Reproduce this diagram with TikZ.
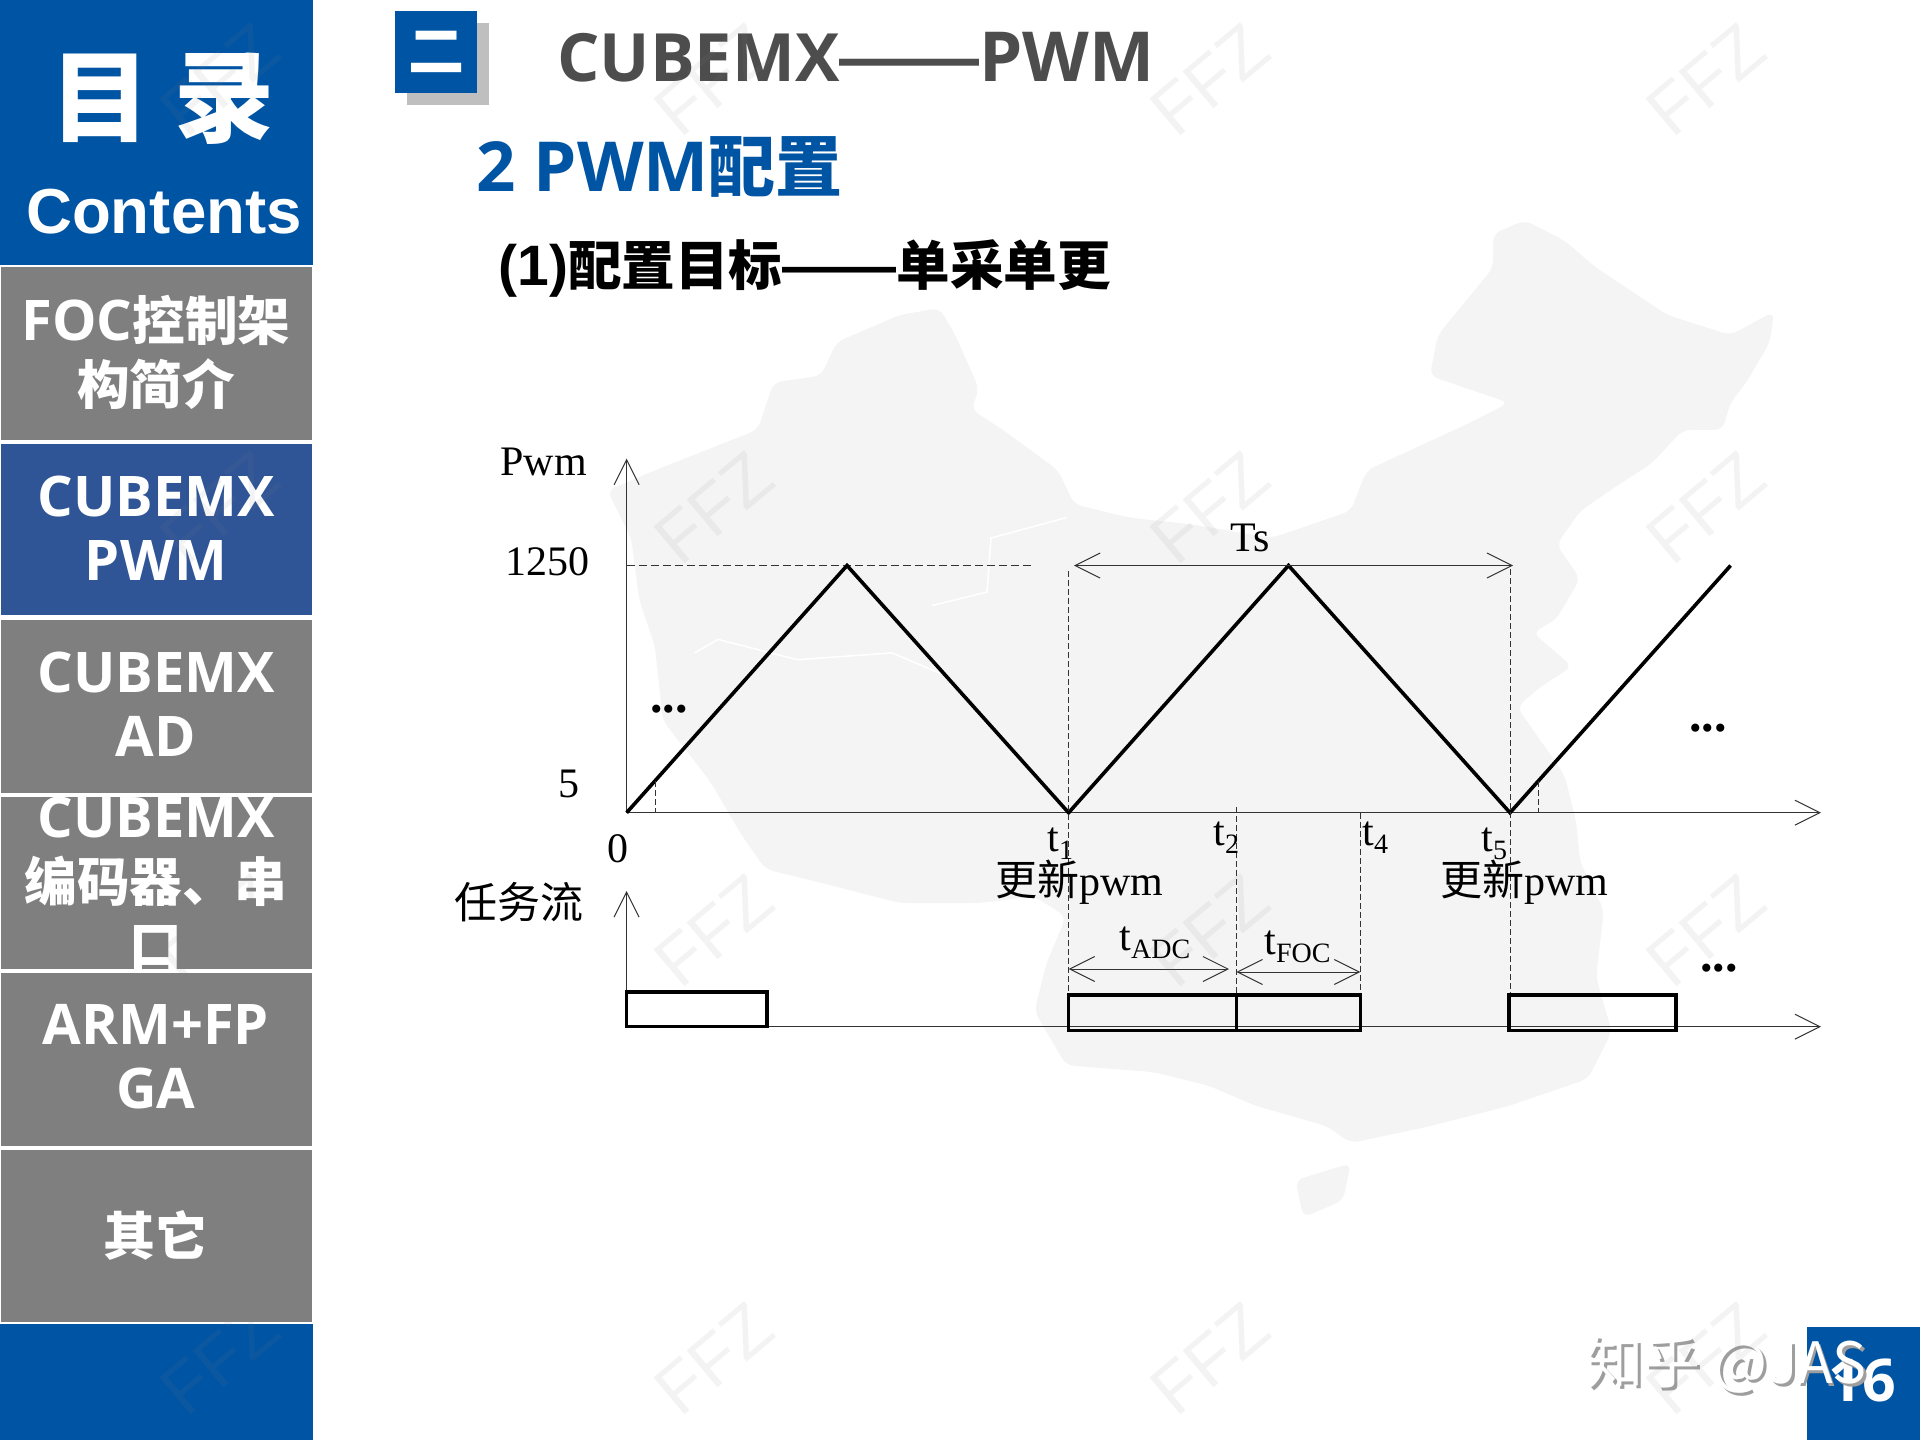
\documentclass[tikz,border=0pt]{standalone}
\usepackage{fontspec}
\usetikzlibrary{arrows.meta}
\setmainfont{Liberation Serif}
\newfontfamily\cjk{Noto Sans CJK SC}
\newfontfamily\opensans{Open Sans}
\newfontfamily\arialbf{Liberation Sans}
\newcommand{\fsize}[1]{\fontsize{#1}{#1}\selectfont}
\newcommand{\tsub}[2]{t\raisebox{-0.2em}{\fsize{14}#2}}
\newcommand{\navcjk}[1]{{\cjk\fontsize{26.3}{32}\selectfont #1}}
\definecolor{topblue}{HTML}{0054A4}
\definecolor{midblue}{HTML}{2F5597}
\definecolor{navgray}{HTML}{7F7F7F}
\definecolor{titlegray}{HTML}{4D4D4D}
\definecolor{mapgray}{HTML}{F4F4F4}
\tikzset{
  navbox/.style={fill=navgray,draw=none},
  navtext/.style={text=white,align=center,inner sep=0pt,font=\opensans\bfseries\fontsize{28}{32}\selectfont},
  plotlabel/.style={inner sep=0pt,anchor=base west,font=\fsize{21}},
  dotlabel/.style={inner sep=0pt,anchor=base west,font=\bfseries\fsize{25}},
  axisline/.style={draw=black!80,line width=.7pt,-{Straight Barb[length=12.5pt,width=12.5pt,line width=.5pt]}},
  spanline/.style={draw=black!80,line width=.5pt,{Straight Barb[length=12.5pt,width=12.5pt,line width=.5pt]}-{Straight Barb[length=12.5pt,width=12.5pt,line width=.5pt]}},
  wave/.style={draw=black,line width=1.8pt,line join=miter},
  guide/.style={draw=black!80,line width=.45pt,dash pattern=on 3pt off 1.5pt},
  taskbox/.style={draw=black,line width=1.8pt},
  mark wm/.style={text=gray,opacity=.09,inner sep=0pt,rotate=40,font=\arialbf\fsize{35}}
}
\begin{document}
\begin{tikzpicture}[x=.5pt,y=-.5pt]
\useasboundingbox (0,0) rectangle (1920,1440);
\fill[white] (0,0) rectangle (1920,1440);
\begin{scope}[shift={(560,200)},x=.3954pt,y=-.338pt]
\fill[mapgray,rounded corners=4pt] (1220,30) -- (1270,60) -- (1310,100) -- (1400,170) -- (1480,200) -- (1535,165) -- (1530,210) -- (1500,270) -- (1480,300) -- (1470,340) -- (1420,340) -- (1380,390) -- (1340,420) -- (1290,460) -- (1260,510) -- (1290,560) -- (1260,620) -- (1230,640) -- (1280,690) -- (1240,720) -- (1210,750) -- (1240,800) -- (1270,850) -- (1285,920) -- (1290,980) -- (1320,1050) -- (1310,1150) -- (1330,1230) -- (1300,1300) -- (1200,1340) -- (1100,1370) -- (1000,1395) -- (970,1370) -- (880,1340) -- (820,1310) -- (750,1290) -- (640,1280) -- (600,1200) -- (615,1130) -- (640,1060) -- (600,1030) -- (530,1040) -- (430,1040) -- (330,1010) -- (260,990) -- (230,940) -- (190,860) -- (130,770) -- (120,660) -- (100,590) -- (90,500) -- (60,430) -- (120,400) -- (250,340) -- (270,270) -- (330,260) -- (350,210) -- (430,170) -- (480,160) -- (500,200) -- (530,280) -- (520,310) -- (560,340) -- (630,400) -- (650,450) -- (720,470) -- (800,480) -- (900,500) -- (1000,460) -- (1020,400) -- (1150,330) -- (1200,300) -- (1100,260) -- (1110,200) -- (1180,100) -- (1180,50) -- cycle;
\fill[mapgray,rounded corners=4pt] (930,1450) -- (1000,1425) -- (990,1480) -- (940,1505) -- cycle;
\draw[white,line width=.8pt] (170,670) -- (200,650) -- (300,680) -- (420,670) -- (480,700);
\draw[white,line width=.8pt] (470,600) -- (540,580) -- (545,500) -- (640,470);
\end{scope}
\fill[topblue] (0,0) rectangle (313,265);
\fill[navbox] (1,267) rectangle (312,440);
\fill[midblue] (1,444) rectangle (312,615);
\fill[navbox] (1,620) rectangle (312,793);
\fill[navbox] (1,797) rectangle (312,969);
\fill[navbox] (1,973) rectangle (312,1146);
\fill[navbox] (1,1150) rectangle (312,1322);
\fill[topblue] (0,1324) rectangle (313,1440);
\node[text=white,inner sep=0pt,font=\cjk\bfseries\fsize{50}] (navtitle) at (162,99) {目\hspace{12pt}录};
\node[text=white,inner sep=0pt,font=\arialbf\bfseries\fsize{31.8}] (navsub) at (164,212) {Contents};
\node[navtext] (nav1) at (156,352.5) {FOC\navcjk{控制架}\\\navcjk{构简介}};
\node[navtext] (nav2) at (156,528) {CUBEMX\\PWM};
\node[navtext] (nav3) at (156,704) {CUBEMX\\AD};
\node[navtext] (nav4) at (156,883) {CUBEMX\\\navcjk{编码器、串}\\\navcjk{口}};
\node[navtext] (nav5) at (156,1057) {ARM+FP\\GA};
\node[navtext,font=\cjk\bfseries\fsize{26}] (nav6) at (155,1235) {其它};
\fill[black!25] (407,23) rectangle (489,105);
\fill[topblue] (395,11) rectangle (477,93);
\node[text=white,inner sep=0pt,font=\cjk\bfseries\fsize{28}] (secnum) at (436,52) {二};
\node[text=titlegray,inner sep=0pt,anchor=base west,font=\opensans\bfseries\fsize{33.3}] (title) at (557,81) {CUBEMX{\arialbf\fsize{35}——}{\fsize{34.5}PWM}};
\node[text=topblue,inner sep=0pt,anchor=base west,font=\opensans\bfseries\fsize{34.5}] (subtitle) at (476,191) {2 PWM{\cjk\fsize{33.5}配置}};
\node[text=black,inner sep=0pt,anchor=base west,font=\cjk\bfseries\fsize{26.8}] (goal) at (498,285) {{\arialbf\fsize{28.5}(1)}配置目标{\arialbf\fsize{28.5}——}单采单更};
\coordinate (orig) at (626.6,812.7);
\coordinate (ytip) at (626.6,458.6);
\coordinate (xtip) at (1821,812.7);
\coordinate (orig2) at (626.6,1026.7);
\coordinate (ytip2) at (626.6,891);
\coordinate (xtip2) at (1821,1026.7);
\coordinate (pk1) at (847,565.5);
\coordinate (val1) at (1068.6,812.7);
\coordinate (pk2) at (1288.5,565.5);
\coordinate (val2) at (1510,812.7);
\coordinate (pk3) at (1730.6,565.5);
\coordinate (pkstop) at (1031.5,565.5);
\coordinate (pkstart) at (626.6,565.5);
\draw[axisline] (orig) -- (ytip);
\draw[axisline] (orig) -- (xtip);
\draw[axisline] (orig2) -- (ytip2);
\draw[axisline] (orig2) -- (xtip2);
\draw[draw=black!80,line width=.5pt,dash pattern=on 4pt off 2pt] (pkstart) -- (pkstop);
\draw[wave] (orig) -- (pk1) -- (val1) -- (pk2) -- (val2) -- (pk3);
\draw[guide] (655,781) -- (655,812.7);
\draw[guide] (1538,781) -- (1538,812.7);
\draw[guide] (1068.6,571) -- (1068.6,995);
\draw[guide] (1236.4,807) -- (1236.4,995);
\draw[guide] (1360.4,812.7) -- (1360.4,995);
\draw[guide] (1510,569) -- (1510,995);
\coordinate (tsl) at (1074,565.5);
\coordinate (tsr) at (1513,565.5);
\coordinate (adcl) at (1068.6,969);
\coordinate (adcr) at (1229,969);
\coordinate (focl) at (1236.4,972);
\coordinate (focr) at (1360.4,972);
\draw[spanline] (tsl) -- (tsr);
\draw[spanline] (adcl) -- (adcr);
\draw[spanline] (focl) -- (focr);
\draw[taskbox] (626.6,992) rectangle (767,1026.5);
\draw[taskbox] (1068.6,995) rectangle (1236.4,1030.4);
\draw[taskbox] (1236.4,995) rectangle (1360.4,1030.4);
\draw[taskbox] (1509,995) rectangle (1676,1030.4);
\node[plotlabel] (pwmlab) at (500,475) {Pwm};
\node[plotlabel] (toplab) at (505,575) {1250};
\node[plotlabel] (fivelab) at (558,797) {5};
\node[plotlabel] (zerolab) at (607,862) {0};
\node[plotlabel] (t1lab) at (1047,851) {\tsub{t}{1}};
\node[plotlabel] (t2lab) at (1213,845) {\tsub{t}{2}};
\node[plotlabel] (t4lab) at (1362,845) {\tsub{t}{4}};
\node[plotlabel] (t5lab) at (1481,851) {\tsub{t}{5}};
\node[plotlabel] (upd1) at (995,895) {{\cjk 更新}pwm};
\node[plotlabel] (upd2) at (1440,895) {{\cjk 更新}pwm};
\node[plotlabel] (tasklab) at (454,918) {{\cjk\fsize{21.5}任务流}};
\node[plotlabel] (tslab) at (1230,551) {Ts};
\node[plotlabel] (adclab) at (1119,950) {\tsub{t}{ADC}};
\node[plotlabel] (foclab) at (1264,954) {\tsub{t}{FOC}};
\node[dotlabel] (dots1) at (650,712) {...};
\node[dotlabel] (dots2) at (1689,731) {...};
\node[dotlabel] (dots3) at (1700,971) {...};
\fill[topblue] (1807,1327) rectangle (1920,1440);
\node[text=white,inner sep=0pt,font=\opensans\bfseries\fsize{29.5}] (pagenum) at (1862,1380) {16};
\node[text=black!38,inner sep=0pt,anchor=base west,font=\cjk\fsize{28.5}] (zhshadow) at (1589,1386) {知乎 @JAS};
\node[text=white,inner sep=0pt,anchor=base west,font=\cjk\fsize{28.5}] (zhtext) at (1586.5,1383.5) {知乎 @JAS};
\foreach \px in {220,714,1210,1706}
  \foreach \py in {80,508,931,1359}
    \node[mark wm] at (\px,\py) {FFZ};
\end{tikzpicture}
\end{document}
